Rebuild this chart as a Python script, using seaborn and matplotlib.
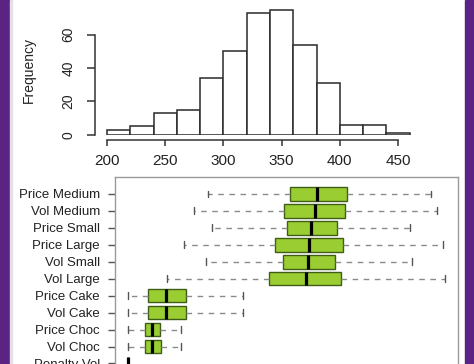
import numpy as np
import pandas as pd
import seaborn as sns
import matplotlib.pyplot as plt
from matplotlib.patches import Rectangle

# histogram counts (bins of 20 from 200 to 460)
bin_edges = [200, 220, 240, 260, 280, 300, 320, 340, 360, 380, 400, 420, 440, 460]
counts = [3, 5, 13, 15, 34, 50, 73, 75, 54, 31, 6, 6, 1]

# boxplot five-number summaries
items = ["Price Medium", "Vol Medium", "Price Small", "Price Large", "Vol Small",
         "Vol Large", "Price Cake", "Vol Cake", "Price Choc", "Vol Choc", "Penalty Vol"]
whis_lo = [25.1, 20.7, 26.5, 17.7, 24.6, 12.3, 0.0, 0.0, 0.0, 0.0, 0.0]
q1 = [51.2, 49.3, 50.0, 46.4, 48.8, 44.5, 6.3, 6.3, 5.5, 5.5, 0.0]
med = [59.7, 58.9, 57.7, 57.1, 56.9, 56.2, 12.0, 12.0, 7.6, 7.7, 0.0]
q3 = [69.0, 68.6, 65.9, 67.8, 65.4, 67.3, 18.3, 18.3, 10.1, 10.3, 0.0]
whis_hi = [95.5, 97.4, 89.1, 99.5, 89.7, 100.0, 36.2, 36.2, 16.7, 16.7, 0.0]

sns.set_style("ticks")
plt.rcParams["font.family"] = ["Liberation Sans", "DejaVu Sans"]

W, H = 474, 364
fig = plt.figure(figsize=(W / 100, H / 100), dpi=100)
fig.patch.set_facecolor("white")

# purple side bands of the screenshot
purple = "#5b2383"
fig.patches.append(Rectangle((0, 0), 10 / W, 1, transform=fig.transFigure, color=purple, zorder=0))
fig.patches.append(Rectangle((10 / W, 0), 2 / W, 1, transform=fig.transFigure, color="#e4e0ea", zorder=0))
fig.patches.append(Rectangle((465 / W, 0), 9 / W, 1, transform=fig.transFigure, color=purple, zorder=0))

# ---- histogram ----
ax1 = fig.add_axes([95.4 / W, 1 - 134.7 / H, 325.9 / W, 130 / H])
centers = [(bin_edges[i] + bin_edges[i + 1]) / 2 for i in range(len(counts))]
sns.histplot(x=centers, weights=counts, bins=bin_edges, ax=ax1,
             color="white", edgecolor="#2a2a2a", linewidth=1.1, alpha=1)
ax1.set_xlim(190, 470)
ax1.set_ylim(0, 78)
ax1.set_xticks([200, 250, 300, 350, 400, 450])
ax1.set_yticks([0, 20, 40, 60])
for s in ["top", "right"]:
    ax1.spines[s].set_visible(False)
ax1.spines["bottom"].set_bounds(200, 450)
ax1.spines["left"].set_bounds(0, 60)
ax1.spines["bottom"].set_position(("outward", 3.6))
for s in ["bottom", "left"]:
    ax1.spines[s].set_color("#333333")
    ax1.spines[s].set_linewidth(1.1)
ax1.tick_params(axis="x", length=4.5, width=1.1, color="#333333", pad=5.5,
                labelsize=11, labelcolor="#222222")
ax1.tick_params(axis="y", length=6, width=1.1, color="#333333", pad=8.5,
                labelsize=10, labelcolor="#222222", labelrotation=90)
for lab in ax1.get_yticklabels():
    lab.set_va("center")
ax1.set_xlabel("")
ax1.set_ylabel("Frequency", fontsize=10, color="#222222", va="center")
ax1.yaxis.set_label_coords(-0.205, 0.5)
ax1.patch.set_alpha(0)

# ---- boxplots ----
rows = []
for i, name in enumerate(items):
    for v in (whis_lo[i], q1[i], med[i], q3[i], whis_hi[i]):
        rows.append({"item": name, "value": v})
df = pd.DataFrame(rows)

spacing = 16.95
top_px = 177.3
bot_px = 194 + 11.5 * spacing
ax2 = fig.add_axes([115.3 / W, 1 - bot_px / H, 342.4 / W, (bot_px - top_px) / H])
sns.boxplot(data=df, x="value", y="item", order=items, orient="h", ax=ax2,
            whis=(0, 100), width=0.8, saturation=1, color="#9acd32",
            showfliers=False,
            boxprops=dict(edgecolor="#3f5d16", linewidth=1.0),
            whiskerprops=dict(color="#8a8a8a", linewidth=1.0, linestyle=(0, (4, 4))),
            capprops=dict(color="#555555", linewidth=1.0),
            medianprops=dict(color="black", linewidth=2.3))
ax2.set_xlim(-4, 104)
ax2.set_ylim(11.5, -0.98)
ax2.set_xlabel("")
ax2.set_ylabel("")
for s in ax2.spines.values():
    s.set_color("#9a9a9a")
    s.set_linewidth(1.0)
    s.set_visible(True)
ax2.tick_params(axis="y", length=5, width=1, color="#555555", pad=6,
                labelsize=9.5, labelcolor="#222222")
ax2.tick_params(axis="x", length=0, labelbottom=False)

fig.savefig("out.png", dpi=100)
